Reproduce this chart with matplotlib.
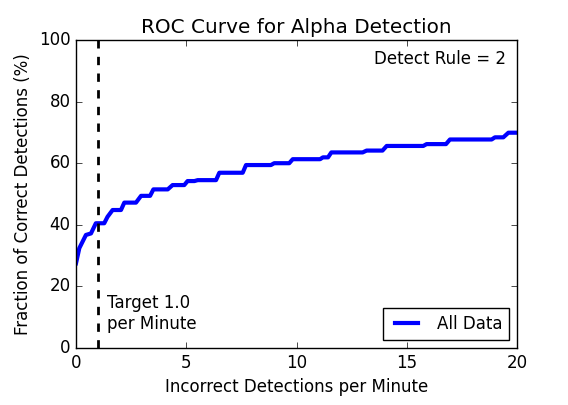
import matplotlib
matplotlib.use("Agg")
import matplotlib.pyplot as plt

plt.style.use("classic")

fpr = [0, 0.15, 0.45, 0.68, 0.9, 1.28, 1.43, 1.66, 2.04, 2.19, 2.72, 2.95, 3.36, 3.51, 4.16,
       4.38, 4.91, 5.06, 5.37, 5.52, 6.35, 6.5, 7.56, 7.71, 8.84, 8.99, 9.67, 9.83, 11.07, 11.2,
       11.43, 11.58, 13.0, 13.18, 13.9, 14.09, 15.75, 15.9, 16.78, 16.96, 18.85, 19.0, 19.38,
       19.61, 20]
tpr = [27.5, 32.4, 36.7, 37.2, 40.5, 40.5, 42.6, 44.8, 44.8, 47.2, 47.2, 49.4, 49.4, 51.5, 51.5,
       52.9, 52.9, 54.2, 54.2, 54.5, 54.5, 56.9, 56.9, 59.4, 59.4, 60.0, 60.0, 61.3, 61.3, 61.9,
       61.9, 63.5, 63.5, 64.1, 64.1, 65.6, 65.6, 66.2, 66.2, 67.7, 67.7, 68.4, 68.4, 69.9, 69.9]
target = 1.0
detect_rule = 2

fig = plt.figure(figsize=(5.68, 4.05), dpi=100, facecolor="white")
ax = fig.add_axes([76 / 568, 1 - 348 / 405, 441 / 568, 308 / 405])

ax.plot(fpr, tpr, color="blue", linewidth=3, label="All Data")
ax.axvline(target, color="black", linestyle="--", linewidth=2)

ax.set_xlim(0, 20)
ax.set_ylim(0, 100)
ax.set_xticks([0, 5, 10, 15, 20])
ax.set_yticks([0, 20, 40, 60, 80, 100])
ax.tick_params(labelsize=12)

ax.set_title("ROC Curve for Alpha Detection", fontsize=14.4)
ax.set_xlabel("Incorrect Detections per Minute", fontsize=12)
ax.set_ylabel("Fraction of Correct Detections (%)", fontsize=12)

ax.text(0.975, 0.968, "Detect Rule = %d" % detect_rule, transform=ax.transAxes,
        ha="right", va="top", fontsize=12)
ax.text(target + 0.4, 5, "Target %.1f\nper Minute" % target, ha="left", va="bottom",
        fontsize=12, linespacing=1.2)

leg = ax.legend(loc="lower right", fontsize=12, fancybox=False)
leg.get_frame().set_edgecolor("black")

fig.savefig("out.png", dpi=100, facecolor="white")
